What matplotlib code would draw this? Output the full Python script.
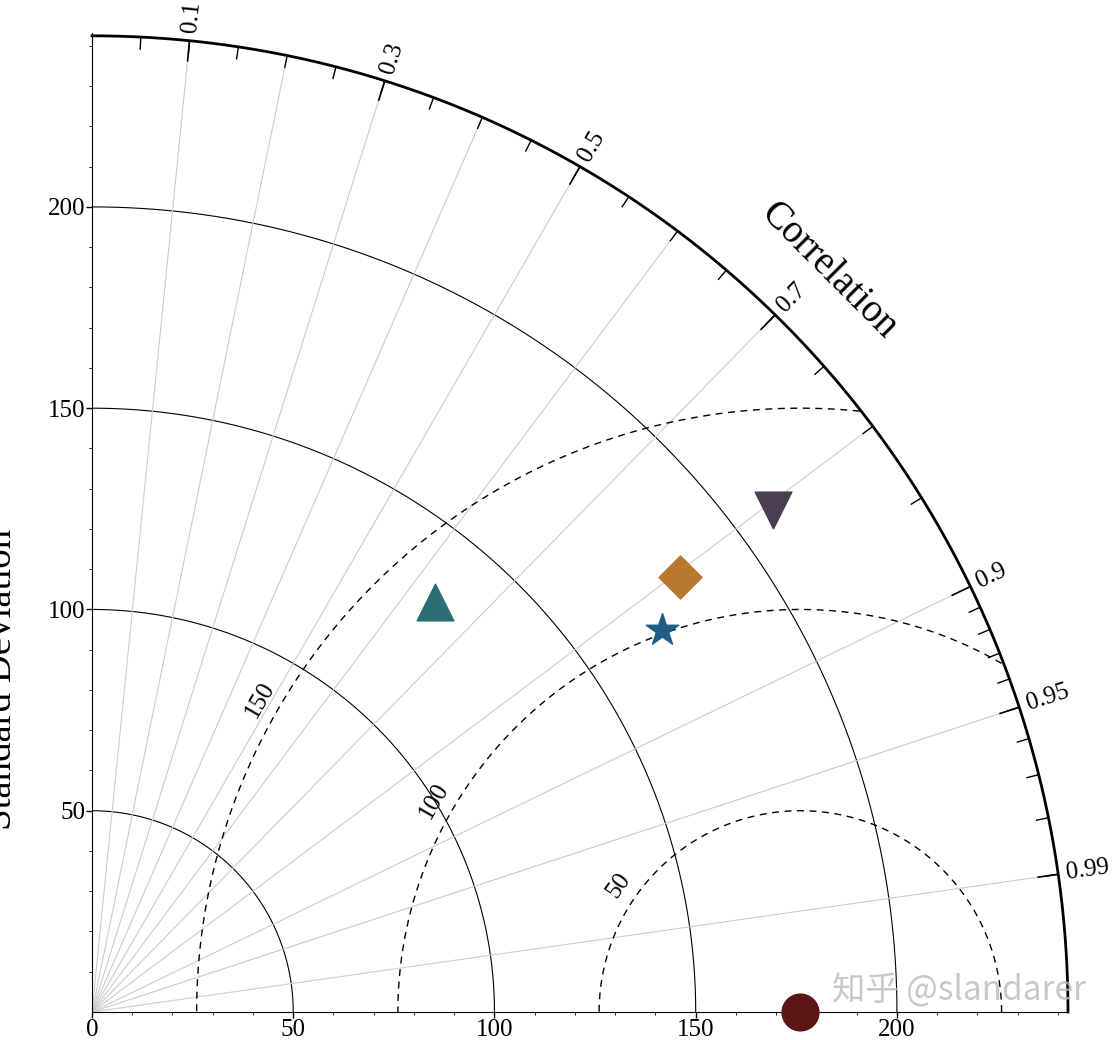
import numpy as np
import matplotlib.pyplot as plt

plt.rcParams['font.family'] = ['Liberation Serif', 'Noto Sans CJK SC']

# model points (x = std*corr, y = std*sin)
pt_x = [85.2, 146.1, 141.6, 169.2]
pt_y = [101.9, 108.1, 94.9, 124.7]
pt_markers = ['^', 'D', '*', 'v']
pt_colors = ['#2a6e72', '#b8782e', '#1f5f86', '#4a3f52']
pt_sizes = [700, 480, 600, 700]
ref_std = 176
std_rings = [50, 100, 150, 200]
rms_rings = [50, 100, 150]
corr_lines = [0.1, 0.2, 0.3, 0.4, 0.5, 0.6, 0.7, 0.8, 0.9, 0.95, 0.99]
corr_labels = [0.1, 0.3, 0.5, 0.7, 0.9, 0.95, 0.99]
rmax = 242.5

fig = plt.figure(figsize=(11.14, 10.4), dpi=100)
ax = fig.add_axes([92/1114, 28/1040, 976/1114, 979/1040])
ax.set_xlim(0, rmax)
ax.set_ylim(0, 243.2)
for s in ['top', 'right']:
    ax.spines[s].set_visible(False)

t = np.linspace(0, np.pi/2, 400)
for r in std_rings:
    ax.plot(r*np.cos(t), r*np.sin(t), color='black', lw=0.8)
ax.plot(rmax*np.cos(t), rmax*np.sin(t), color='black', lw=2, clip_on=False)

for c in corr_lines:
    a = np.arccos(c)
    ax.plot([0, rmax*np.cos(a)], [0, rmax*np.sin(a)], color='#cccccc', lw=0.8)

# ticks on the arc
minor = list(np.arange(0.05, 0.9, 0.05)) + list(np.arange(0.91, 1.0, 0.01))
for c in minor:
    a = np.arccos(c)
    ax.plot([rmax*np.cos(a), (rmax-3)*np.cos(a)], [rmax*np.sin(a), (rmax-3)*np.sin(a)],
            color='black', lw=1, clip_on=False)
for c in corr_labels:
    a = np.arccos(c)
    ax.plot([rmax*np.cos(a), (rmax-5)*np.cos(a)], [rmax*np.sin(a), (rmax-5)*np.sin(a)],
            color='black', lw=1.2, clip_on=False)
    ax.text((rmax+2)*np.cos(a), (rmax+2)*np.sin(a), str(c), rotation=np.degrees(a),
            rotation_mode='anchor', ha='left', va='center', fontsize=18, clip_on=False)

ax.text(183, 184, 'Correlation', rotation=-45, ha='center', va='center', fontsize=28)

# RMS circles around the reference
for r, ang in zip(rms_rings, [145, 150, 150]):
    tt = np.linspace(0, np.pi, 400)
    xx = ref_std + r*np.cos(tt)
    yy = r*np.sin(tt)
    keep = xx**2 + yy**2 <= rmax**2
    ax.plot(xx[keep], yy[keep], color='black', lw=1, ls=(0, (5, 4)))
    a = np.radians(ang)
    ax.text(ref_std + (r+5)*np.cos(a), (r+5)*np.sin(a), str(r), rotation=ang-90,
            ha='center', va='center', fontsize=18)

for x, y, m, c, s in zip(pt_x, pt_y, pt_markers, pt_colors, pt_sizes):
    ax.scatter(x, y, marker=m, color=c, s=s, zorder=5)
ax.scatter(ref_std, 0, marker='o', color='#5c1414', s=700, zorder=5, clip_on=False)

ax.set_xticks([0, 50, 100, 150, 200])
ax.set_yticks([50, 100, 150, 200])
ax.set_xticks(np.arange(10, 241, 10), minor=True)
ax.set_yticks(np.arange(10, 241, 10), minor=True)
ax.tick_params(labelsize=18, direction='out', length=4, width=1, pad=1)
ax.tick_params(which='minor', direction='out', length=2.5)
ax.set_ylabel('Standard Deviation', fontsize=28, labelpad=4)
ax.yaxis.set_label_coords(-0.074, 0.34)

fig.text(0.975, 0.03, '知乎 @slandarer', fontsize=24, color='#bbbbbb', ha='right',
         va='bottom', family=['Noto Sans CJK SC', 'DejaVu Sans'], alpha=0.8)

fig.savefig('out.png', dpi=100)
